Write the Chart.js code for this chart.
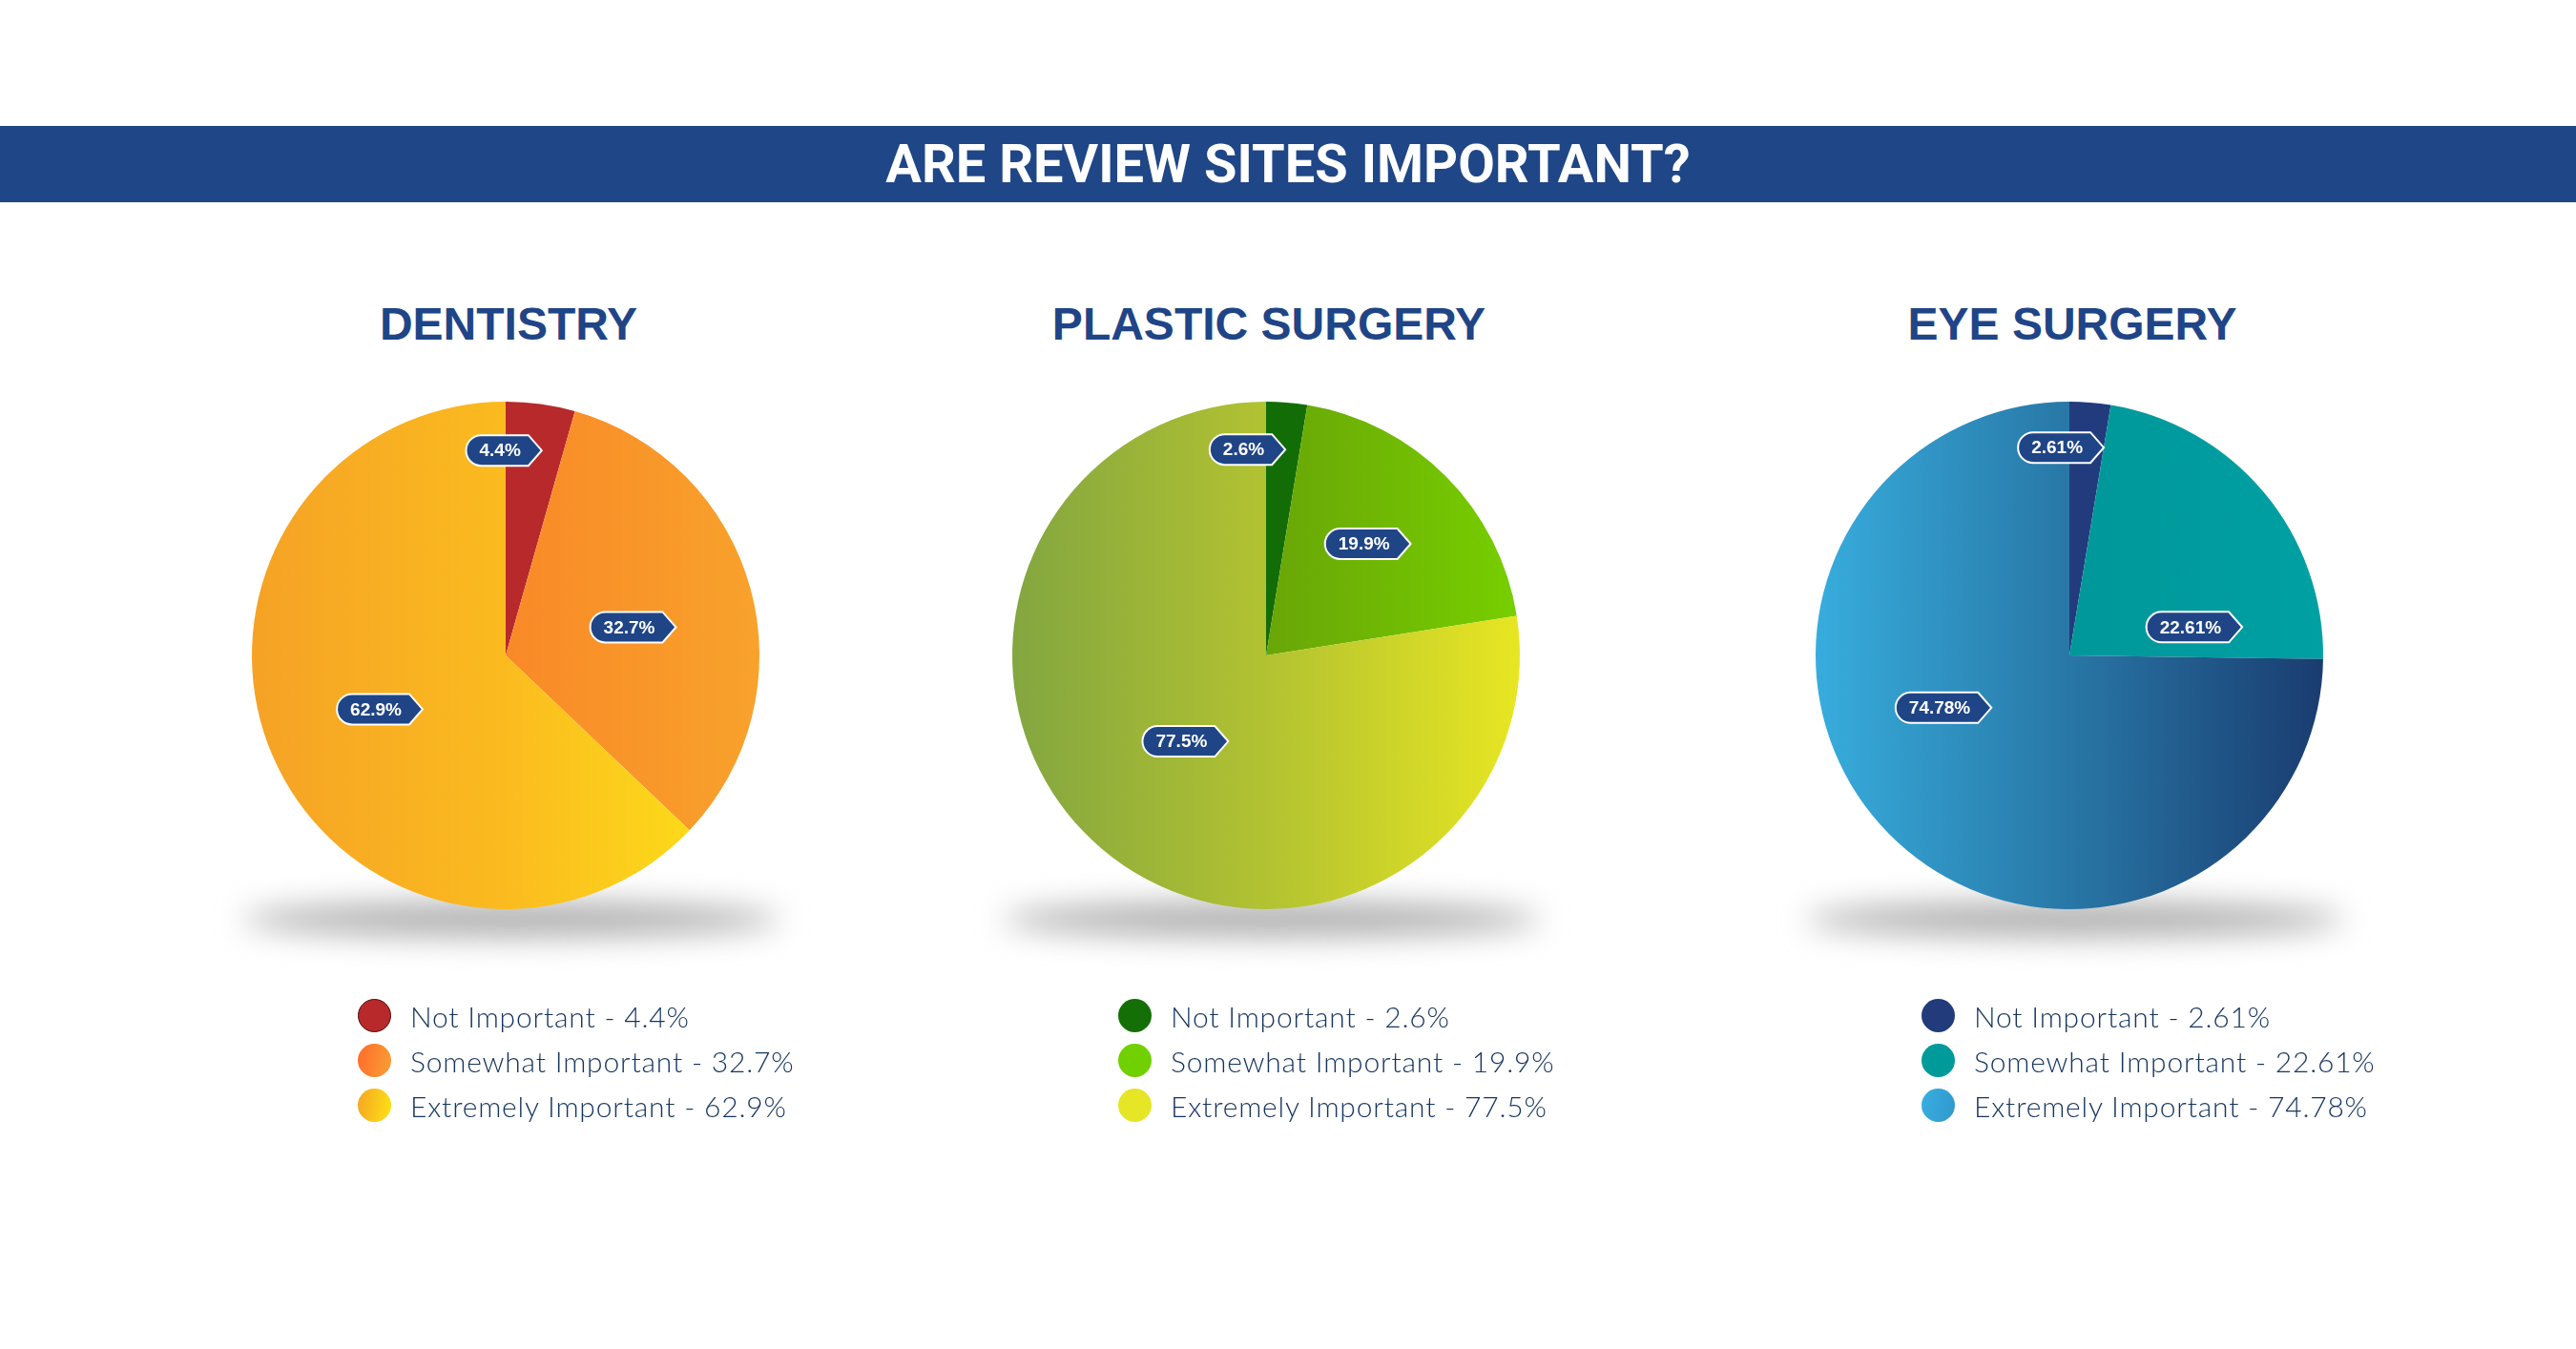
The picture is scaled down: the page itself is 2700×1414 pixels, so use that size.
<!DOCTYPE html>
<html>
<head>
<meta charset="utf-8">
<script src="https://cdn.jsdelivr.net/npm/chart.js@4.4.0/dist/chart.umd.min.js"></script>
<style>
  body { margin:0; width:2700px; height:1414px; background:#fff; position:relative; overflow:hidden; }
  .banner { position:absolute; left:0; top:132px; width:2700px; height:80px; background:#1f4687; color:#fff; text-align:center; font:700 56px Roboto, sans-serif; line-height:80px; }
  .subtitle { position:absolute; width:800px; top:312px; height:60px; line-height:60px; text-align:center; color:#1f4587; font:700 48px "Liberation Sans", Arial, sans-serif; }
  .pie { position:absolute; width:800px; height:700px; }
  .legend { position:absolute; top:1041px; font:300 30px Lato, sans-serif; letter-spacing:0.8px; color:#15355f; }
  .legend .row { display:flex; align-items:center; height:47px; white-space:nowrap; }
  .legend .dot { width:35px; height:35px; border-radius:50%; margin-right:20px; box-sizing:border-box; }
</style>
</head>
<body>
<div class="banner">ARE REVIEW SITES IMPORTANT?</div>
<div id="panels"></div>
<script>
const CATEGORIES = ['Not Important', 'Somewhat Important', 'Extremely Important'];
const PANEL_TITLES = ['DENTISTRY', 'PLASTIC SURGERY', 'EYE SURGERY'];
const DENTISTRY = [4.4, 32.7, 62.9];
const PLASTIC_SURGERY = [2.6, 19.9, 77.5];
const EYE_SURGERY = [2.61, 22.61, 74.78];
const SERIES = [DENTISTRY, PLASTIC_SURGERY, EYE_SURGERY];

// layout + look (kept apart from the data)
const CENTERS = [[530, 687], [1327, 687], [2169, 687]];
const RADIUS = 266;
// gradient stops across the pie's width, one list per slice
const FILLS = [
  [[[0,'#b8292b'],[1,'#b8292b']], [[0,'#fa8a27'],[0.5,'#f98927'],[1,'#f8a22c']], [[0,'#f5a225'],[0.5,'#fbbb1f'],[0.85,'#fcd81a'],[1,'#fde419']]],
  [[[0,'#136d07'],[1,'#136d07']], [[0,'#69a507'],[0.5,'#69a507'],[1,'#77cf00']], [[0,'#83a640'],[0.5,'#b2c231'],[1,'#e8e622']]],
  [[[0,'#213b7d'],[1,'#213b7d']], [[0,'#00979a'],[0.5,'#00979a'],[1,'#00a0a3']], [[0,'#37addd'],[0.5,'#2877a6'],[1,'#1a3c70']]]
];
const DOTS = [
  ['#b8292b', 'linear-gradient(100deg,#ff6c2a,#f99f34)', 'linear-gradient(100deg,#f5a425,#fde313)'],
  ['#146f06', '#70d000', '#e6e526'],
  ['#213b7b', '#009a9b', 'linear-gradient(100deg,#3aaee0,#2f98cc)']
];
// where the badge tip sits: fraction along the slice, fraction of the radius
const BADGE_AT = [
  [[0.63, 0.82], [0.55, 0.68], [0.457, 0.39]],
  [[0.57, 0.815], [0.60, 0.72], [0.44, 0.37]],
  [[1.0, 0.83], [0.876, 0.69], [0.54, 0.37]]
];

function sliceFill(panel) {
  return (ctx) => {
    const area = ctx.chart.chartArea;
    const stops = FILLS[panel][ctx.dataIndex];
    if (!area) return stops[0][1];
    const g = ctx.chart.ctx.createLinearGradient(area.left, 0, area.right, 0);
    stops.forEach(s => g.addColorStop(s[0], s[1]));
    return g;
  };
}

const shadowPlugin = {
  id: 'shadow',
  beforeDatasetsDraw(chart) {
    const arc = chart.getDatasetMeta(0).data[0];
    if (!arc) return;
    const c = chart.ctx;
    c.save();
    c.filter = 'blur(16px)';
    c.fillStyle = '#acacac';
    c.beginPath();
    c.ellipse(arc.x + 6, arc.y + arc.outerRadius * 1.04, arc.outerRadius * 1.06, 18, 0, 0, Math.PI * 2);
    c.fill();
    c.restore();
  }
};

const badgePlugin = {
  id: 'badges',
  afterDatasetsDraw(chart) {
    const panel = chart.config.options.panel;
    const c = chart.ctx;
    const values = chart.data.datasets[0].data;
    chart.getDatasetMeta(0).data.forEach((arc, i) => {
      const [t, rf] = BADGE_AT[panel][i];
      const a = arc.startAngle + t * (arc.endAngle - arc.startAngle);
      const tipX = arc.x + Math.cos(a) * rf * arc.outerRadius;
      const tipY = arc.y + Math.sin(a) * rf * arc.outerRadius;
      const text = values[i] + '%';
      c.save();
      c.font = 'bold 19px "Liberation Sans", Arial, sans-serif';
      const tw = c.measureText(text).width;
      const h = 32, r = h / 2, padL = 14, padR = 22, head = 14;
      const left = tipX - padR - tw - padL;
      const top = tipY - r;
      c.beginPath();
      c.moveTo(left + r, top);
      c.lineTo(tipX - head, top);
      c.lineTo(tipX, tipY);
      c.lineTo(tipX - head, top + h);
      c.lineTo(left + r, top + h);
      c.arc(left + r, tipY, r, Math.PI / 2, Math.PI * 1.5);
      c.closePath();
      c.fillStyle = '#1f4587';
      c.fill();
      c.lineWidth = 2;
      c.strokeStyle = '#ffffff';
      c.stroke();
      c.fillStyle = '#ffffff';
      c.textBaseline = 'middle';
      c.textAlign = 'left';
      c.fillText(text, left + padL, tipY + 1);
      c.restore();
    });
  }
};

function buildPanel(p) {
  const [cx, cy] = CENTERS[p];
  const host = document.getElementById('panels');

  const h = document.createElement('div');
  h.className = 'subtitle';
  h.style.left = (cx + 3 - 400) + 'px';
  h.textContent = PANEL_TITLES[p];
  host.appendChild(h);

  const box = document.createElement('div');
  box.className = 'pie';
  box.style.left = (cx - 400) + 'px';
  box.style.top = (cy - 300) + 'px';
  box.innerHTML = '<canvas width="800" height="700"></canvas>';
  host.appendChild(box);

  const pad = 400 - RADIUS;
  new Chart(box.querySelector('canvas'), {
    type: 'pie',
    data: {
      labels: CATEGORIES,
      datasets: [{
        data: SERIES[p],
        backgroundColor: sliceFill(p),
        borderWidth: 0
      }]
    },
    options: {
      panel: p,
      responsive: false,
      animation: false,
      layout: { padding: { left: pad, right: pad, top: 300 - RADIUS, bottom: 700 - 300 - RADIUS } },
      plugins: { legend: { display: false }, tooltip: { enabled: false } }
    },
    plugins: [shadowPlugin, badgePlugin]
  });

  const lg = document.createElement('div');
  lg.className = 'legend';
  lg.style.left = (cx - 155) + 'px';
  lg.innerHTML = CATEGORIES.map((c, i) => `
    <div class="row"><span class="dot" style="background:${DOTS[p][i]};${i === 0 && p === 0 ? 'border:1px solid #4a1212' : ''}"></span>${c} - ${SERIES[p][i]}%</div>
  `).join('');
  host.appendChild(lg);
}

PANEL_TITLES.forEach((_, p) => buildPanel(p));
</script>
</body>
</html>
